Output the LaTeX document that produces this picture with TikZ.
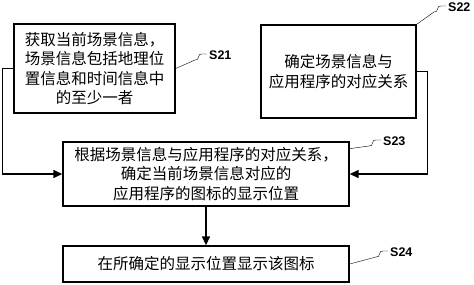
\documentclass[tikz,border=0pt]{standalone}
\usepackage{fontspec}
\newfontfamily\cjk{Noto Sans CJK SC}
\newfontfamily\tagfont{Liberation Sans}
\usepackage{tikz}
\usetikzlibrary{arrows.meta,positioning,calc}
\tikzset{
  stepbox/.style={rectangle,draw=black,line width=1.4pt,fill=white,
                  align=center,inner sep=2pt,
                  font=\cjk\fontsize{15.5}{19.5}\selectfont},
  arrow/.style={-{Triangle[length=9pt,width=8pt]},line width=1.4pt},
  tag/.style={font=\tagfont\bfseries\fontsize{12.5}{13}\selectfont,inner sep=0pt},
  lead/.style={line width=1.4pt,
               to path={-- ($(\tikztotarget)+(-14,5)$)
                        .. controls +(5,1) and +(-5,-1) .. ($(\tikztotarget)+(-7,-1)$)
                        -- ($(\tikztotarget)+(-2,-1)$)}},
}

\begin{document}
\begin{tikzpicture}[x=1pt,y=-1pt]
    \useasboundingbox (0,0) rectangle (474,284);

    \node[stepbox,minimum width=161pt,minimum height=89pt] (s21) at (94.5,68.5)
      {获取当前场景信息，\\场景信息包括地理位\\置信息和时间信息中\\的至少一者};
    \node[stepbox,minimum width=155pt,minimum height=93pt] (s22) at (338.5,71.5)
      {确定场景信息与\\应用程序的对应关系};
    \node[stepbox,minimum width=286pt,minimum height=64pt] (s23) at (206,174)
      {根据场景信息与应用程序的对应关系，\\确定当前场景信息对应的\\应用程序的图标的显示位置};
    \node[stepbox,minimum width=286pt,minimum height=36pt] (s24) at (206,264)
      {在所确定的显示位置显示该图标};

    % step tags
    \node[tag,anchor=west] (t21) at (209,55)  {S21};
    \node[tag,anchor=west] (t22) at (448,7)   {S22};
    \node[tag,anchor=west] (t23) at (383,141) {S23};
    \node[tag,anchor=west] (t24) at (390,252) {S24};
    \draw (s21.east)       to[lead] (t21.west);
    \draw (s22.north east) to[lead] (t22.west);
    \draw (s23.10)         to[lead] (t23.west);
    \draw (s24.east)       to[lead] (t24.west);

    % links
    \draw[arrow] (s21.west) -- ++(-11,0) |- (s23.west);
    \draw[arrow] (s22.east) -- ++(11,0) |- (s23.east);
    \draw[arrow] (s23.south) -- (s24.north);

\end{tikzpicture}
\end{document}
